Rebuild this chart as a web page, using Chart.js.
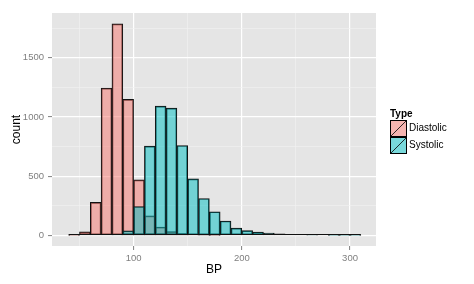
<!DOCTYPE html>
<html>
<head>
<meta charset="utf-8">
<script src="https://cdn.jsdelivr.net/npm/chart.js@4"></script>
<style>
  html, body { margin: 0; padding: 0; background: #fff; }
</style>
</head>
<body>
<canvas id="bpChart" width="474" height="284"></canvas>
<script>
// Histogram bins: lower edge of each 10 mmHg bin
const binStarts = [40, 50, 60, 70, 80, 90, 100, 110, 120, 130, 140, 150, 160, 170, 180, 190, 200, 210, 220, 230, 240, 250, 260, 270, 280, 290, 300];
const BIN_WIDTH = 10;

// Counts
const diastolicCounts = [1, 30, 280, 1244, 1787, 1150, 470, 165, 70, 33, 15, 5, 2, 1, 0, 0, 0, 0, 0, 0, 0, 0, 0, 0, 0, 0, 0];
const systolicCounts = [0, 0, 0, 0, 5, 40, 245, 755, 1092, 1076, 760, 478, 312, 200, 122, 62, 41, 29, 20, 13, 7, 7, 2, 8, 1, 1, 1];

const seriesNames = ["Diastolic", "Systolic"];

// Axis ticks
const xTickLabels = [100, 200, 300];
const xGridValues = [50, 100, 150, 200, 250, 300];
const yTickLabels = [0, 500, 1000, 1500];
const yGridValues = [0, 250, 500, 750, 1000, 1250, 1500, 1750];

const FONT = "'Liberation Sans', Arial, sans-serif";
const PANEL_GREY = "#e5e5e5";
const TICK_GREY = "#7f7f7f";
const OUTLINE = "#111";

function toPoints(counts) {
	return counts.map((c, i) => ({ x: binStarts[i] + BIN_WIDTH / 2, y: c }));
}

// true when the grid line belongs to a labelled (major) tick
function isMajor(c, labels) {
	return !!(c && c.tick && labels.includes(c.tick.value));
}

// grey ggplot-style panel
const panelBackground = {
	id: "panelBackground",
	beforeDraw(chart) {
		const { ctx, chartArea: a } = chart;
		ctx.save();
		ctx.fillStyle = PANEL_GREY;
		ctx.fillRect(a.left, a.top, a.width, a.height);
		ctx.restore();
	},
};

// empty bins still get an outline along zero, like ggplot does
const zeroOutline = {
	id: "zeroOutline",
	afterDatasetsDraw(chart) {
		const { ctx, scales } = chart;
		const x0 = scales.x.getPixelForValue(binStarts[0]);
		const x1 = scales.x.getPixelForValue(binStarts[binStarts.length - 1] + BIN_WIDTH);
		const y = Math.round(scales.y.getPixelForValue(0)) - 0.5;
		ctx.save();
		ctx.strokeStyle = OUTLINE;
		ctx.lineWidth = 1.2;
		ctx.beginPath();
		ctx.moveTo(x0, y);
		ctx.lineTo(x1, y);
		ctx.stroke();
		ctx.restore();
	},
};

// legend on the right with the "Type" title and slashed keys
const typeLegend = {
	id: "typeLegend",
	afterDraw(chart) {
		const ctx = chart.ctx;
		const x = chart.chartArea.right + 14;
		let y = 108;
		ctx.save();
		ctx.fillStyle = "#000";
		ctx.font = "bold 10px " + FONT;
		ctx.textBaseline = "middle";
		ctx.textAlign = "left";
		ctx.fillText("Type", x, y + 6);
		y += 12;
		const size = 17;
		chart.data.datasets.forEach((ds) => {
			ctx.fillStyle = "#f2f2f2";
			ctx.fillRect(x, y, size, size);
			ctx.fillStyle = ds.backgroundColor;
			ctx.fillRect(x, y, size, size);
			ctx.strokeStyle = "#000";
			ctx.lineWidth = 1;
			ctx.strokeRect(x + 0.5, y + 0.5, size - 1, size - 1);
			ctx.beginPath();
			ctx.moveTo(x + 1, y + size - 1);
			ctx.lineTo(x + size - 1, y + 1);
			ctx.lineWidth = 0.8;
			ctx.stroke();
			ctx.fillStyle = "#000";
			ctx.font = "10px " + FONT;
			ctx.fillText(ds.label, x + size + 2, y + size / 2);
			y += size;
		});
		ctx.restore();
	},
};

const chart = new Chart(document.getElementById("bpChart").getContext("2d"), {
	type: "bar",
	data: {
		datasets: [
			{
				label: seriesNames[0],
				data: toPoints(diastolicCounts),
				backgroundColor: "rgba(248, 118, 109, 0.5)",
				borderColor: OUTLINE,
				borderWidth: 1,
				borderSkipped: false,
				order: 1,
			},
			{
				label: seriesNames[1],
				data: toPoints(systolicCounts),
				backgroundColor: "rgba(0, 191, 196, 0.5)",
				borderColor: OUTLINE,
				borderWidth: 1,
				borderSkipped: false,
				order: 0,
			},
		],
	},
	options: {
		responsive: false,
		animation: false,
		devicePixelRatio: 1,
		layout: {
			padding: { top: 13, right: 98, left: 0, bottom: 0 },
		},
		datasets: {
			bar: {
				grouped: false,
				barPercentage: 1,
				categoryPercentage: 1,
			},
		},
		plugins: {
			legend: { display: false },
			tooltip: { enabled: false },
		},
		scales: {
			x: {
				type: "linear",
				min: 24.6,
				max: 324,
				offset: false,
				afterBuildTicks: (scale) => {
					scale.ticks = xGridValues.map((v) => ({ value: v }));
				},
				afterFit: (scale) => {
					scale.height = 38;
				},
				border: { display: false },
				grid: {
					offset: false,
					color: (c) => (isMajor(c, xTickLabels) ? "#ffffff" : "#f2f2f2"),
					lineWidth: (c) => (isMajor(c, xTickLabels) ? 1.2 : 0.6),
					tickColor: (c) => (isMajor(c, xTickLabels) ? TICK_GREY : "rgba(0,0,0,0)"),
					tickLength: 4,
					tickWidth: 1,
				},
				ticks: {
					autoSkip: false,
					maxRotation: 0,
					padding: 3,
					color: TICK_GREY,
					font: { family: FONT, size: 9.5 },
					callback: (v) => (xTickLabels.includes(v) ? String(v) : ""),
				},
				title: {
					display: true,
					text: "BP",
					color: "#000",
					font: { family: FONT, size: 12 },
					padding: { top: 0, bottom: 7 },
				},
			},
			y: {
				type: "linear",
				min: -89,
				max: 1879,
				afterBuildTicks: (scale) => {
					scale.ticks = yGridValues.map((v) => ({ value: v }));
				},
				afterFit: (scale) => {
					scale.width = 52;
				},
				border: { display: false },
				grid: {
					color: (c) => (isMajor(c, yTickLabels) ? "#ffffff" : "#f2f2f2"),
					lineWidth: (c) => (isMajor(c, yTickLabels) ? 1.2 : 0.6),
					tickColor: (c) => (isMajor(c, yTickLabels) ? TICK_GREY : "rgba(0,0,0,0)"),
					tickLength: 4,
					tickWidth: 1,
				},
				ticks: {
					autoSkip: false,
					padding: 4,
					color: TICK_GREY,
					font: { family: FONT, size: 9.5 },
					callback: (v) => (yTickLabels.includes(v) ? String(v) : ""),
				},
				title: {
					display: true,
					text: "count",
					color: "#000",
					font: { family: FONT, size: 12 },
					padding: { top: 9, bottom: 0 },
				},
			},
		},
	},
	plugins: [panelBackground, zeroOutline, typeLegend],
});
</script>
</body>
</html>
